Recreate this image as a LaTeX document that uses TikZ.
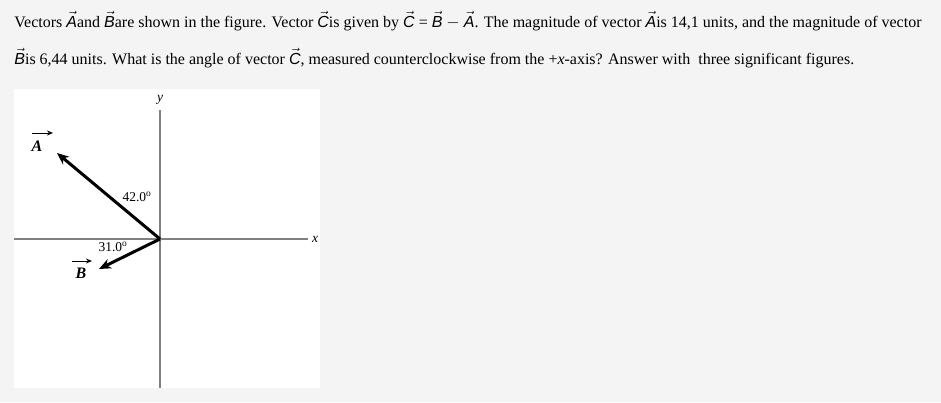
\documentclass[tikz,border=0pt]{standalone}
\usepackage{fontspec}
\setmainfont{Liberation Serif}
\setsansfont{Liberation Sans}
\usetikzlibrary{arrows.meta}
\definecolor{pagegray}{RGB}{244,244,244}
\definecolor{axisgray}{RGB}{128,128,128}
\newcommand{\vv}[1]{$\vec{\textsf{\itshape #1}}$}
\begin{document}
\begin{tikzpicture}[x=1pt, y=-1pt, thick,
    axis/.style = {draw=axisgray, line width=1.8pt},
    vec/.style = {line width=3pt, -{Stealth[length=12pt, width=10pt]}},
    over/.style = {line width=1pt, -{Stealth[length=6pt, width=5pt]}},
    question/.style = {anchor=base west, inner sep=0pt, font=\fontsize{16}{19}\selectfont},
    lab/.style = {inner sep=0pt, font=\fontsize{13.5}{15}\selectfont},
    veclab/.style = {inner sep=0pt, font=\fontsize{16}{18}\selectfont\bfseries\itshape}]

	\fill[pagegray] (0,0) rectangle (941,402);
	\useasboundingbox (0,0) rectangle (941,402);
	\fill[white] (14,89) rectangle (320,388);

	% question text
	\node[question] (line1) at (14,27) {Vectors \vv{A}and \vv{B}are shown in the figure. Vector \vv{C}is given by \vv{C} = \vv{B} $-$ \vv{A}. The magnitude of vector \vv{A}is 14,1 units, and the magnitude of vector};
	\node[question] (line2) at (14,64) {\vv{B}is 6,44 units. What is the angle of vector \vv{C}, measured counterclockwise from the +\textit{x}-axis? Answer with \ three significant figures.};

	% axes
	\coordinate (O) at (160,239);
	\coordinate (xleft) at (14,239);
	\coordinate (xright) at (308,239);
	\coordinate (ytop) at (160,110);
	\coordinate (ybot) at (160,388);
	\draw[axis] (xleft) -- (xright);
	\draw[axis] (ytop) -- (ybot);
	\node[lab] (xlab) at (315,239) {\textit{x}};
	\node[lab] (ylab) at (160,100) {\textit{y}};

	% vectors
	\coordinate (Atip) at (57,153);
	\coordinate (Btip) at (99,269);
	\draw[vec] (O) -- (Atip);
	\draw[vec] (O) -- (Btip);
	\node[veclab] (Alab) at (37,146) {A};
	\node[veclab] (Blab) at (81,273) {B};
	\coordinate (Aarr1) at (32,133);
	\coordinate (Aarr2) at (53,133);
	\coordinate (Barr1) at (72,261);
	\coordinate (Barr2) at (92,261);
	\draw[over] (Aarr1) -- (Aarr2);
	\draw[over] (Barr1) -- (Barr2);

	% angles
	\node[lab] (angA) at (137,197) {42.0\textsuperscript{o}};
	\node[lab] (angB) at (113,247) {31.0\textsuperscript{o}};
\end{tikzpicture}
\end{document}
